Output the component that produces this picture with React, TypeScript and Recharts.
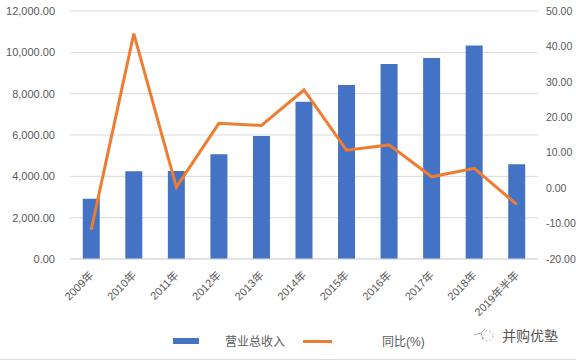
import { ComposedChart, Bar, Line, XAxis, YAxis, CartesianGrid } from 'recharts'

const years = ['2009年', '2010年', '2011年', '2012年', '2013年', '2014年', '2015年', '2016年', '2017年', '2018年', '2019年半年']
const revenue = [2920, 4250, 4260, 5070, 5950, 7610, 8420, 9440, 9730, 10330, 4590]
const yoy = [-11.7, 43.6, 0.3, 18.3, 17.7, 27.7, 10.7, 12.2, 3.2, 5.6, -4.6]
const leftTicks = [0, 2000, 4000, 6000, 8000, 10000, 12000]
const rightTicks = [-20, -10, 0, 10, 20, 30, 40, 50]

const FONT = '"Liberation Sans", "Noto Sans CJK SC", sans-serif'
const TEXT = '#595959'
const BLUE = '#4472C4'
const ORANGE = '#ED7D31'

const data = years.map((year, i) => ({ year, revenue: revenue[i], yoy: yoy[i] }))

function YearTick({ x, y, payload }: any) {
  return (
    <text
      x={x + 3}
      y={y + 9}
      textAnchor="end"
      fontSize={11}
      fill={TEXT}
      fontFamily={FONT}
      transform={`rotate(-45, ${x + 3}, ${y + 9})`}
    >
      {payload.value}
    </text>
  )
}

export default function App() {
  const tickStyle = { fontSize: 11, fill: TEXT, fontFamily: FONT }
  return (
    <div style={{ position: 'absolute', left: 0, top: 0, width: 576, height: 361, background: '#fff' }}>
      <ComposedChart width={576} height={361} data={data} margin={{ top: 11, right: 0, bottom: 0, left: 0 }} barCategoryGap="30%">
        <CartesianGrid vertical={false} stroke="#D9D9D9" yAxisId="left" />
        <XAxis
          dataKey="year"
          height={102}
          interval={0}
          tickLine={false}
          axisLine={{ stroke: '#D9D9D9' }}
          tick={<YearTick />}
        />
        <YAxis
          yAxisId="left"
          width={70}
          domain={[0, 12000]}
          ticks={leftTicks}
          tickLine={false}
          axisLine={false}
          tickMargin={9}
          tick={tickStyle}
          tickFormatter={(v: number) => v.toLocaleString('en-US', { minimumFractionDigits: 2, maximumFractionDigits: 2 })}
        />
        <YAxis
          yAxisId="right"
          orientation="right"
          width={38}
          domain={[-20, 50]}
          ticks={rightTicks}
          tickLine={false}
          axisLine={false}
          tickMargin={2}
          tick={{ ...tickStyle, fontSize: 10.5, textAnchor: 'start' }}
          tickFormatter={(v: number) => v.toFixed(2)}
        />
        <Bar yAxisId="left" dataKey="revenue" fill={BLUE} isAnimationActive={false} />
        <Line
          yAxisId="right"
          type="linear"
          dataKey="yoy"
          stroke={ORANGE}
          strokeWidth={3}
          dot={false}
          isAnimationActive={false}
        />
      </ComposedChart>

      {/* legend + watermark, Excel style */}
      <div style={{ position: 'absolute', left: 173, top: 338, width: 26, height: 6, background: BLUE }} />
      <div style={{ position: 'absolute', left: 225, top: 332, fontSize: 12, color: TEXT, fontFamily: FONT, whiteSpace: 'nowrap' }}>
        营业总收入
      </div>
      <div style={{ position: 'absolute', left: 303, top: 340, width: 29, height: 3, background: ORANGE }} />
      <div style={{ position: 'absolute', left: 382, top: 332, fontSize: 12, color: TEXT, fontFamily: FONT, whiteSpace: 'nowrap' }}>
        同比(%)
      </div>
      <svg style={{ position: 'absolute', left: 472, top: 326 }} width={24} height={18}>
        <path d="M2 9 L9 7 M9 7 L13 3 M9 7 L11 14" stroke="#aaa" strokeWidth={1} fill="none" />
        <circle cx={16} cy={10} r={5} stroke="#bbb" strokeWidth={1} strokeDasharray="2 2" fill="none" />
      </svg>
      <div style={{ position: 'absolute', left: 502, top: 325, fontSize: 14, color: '#555', fontFamily: FONT, whiteSpace: 'nowrap' }}>
        并购优塾
      </div>
      <div style={{ position: 'absolute', left: 0, top: 359, width: 576, height: 1, background: '#D9D9D9' }} />
    </div>
  )
}
